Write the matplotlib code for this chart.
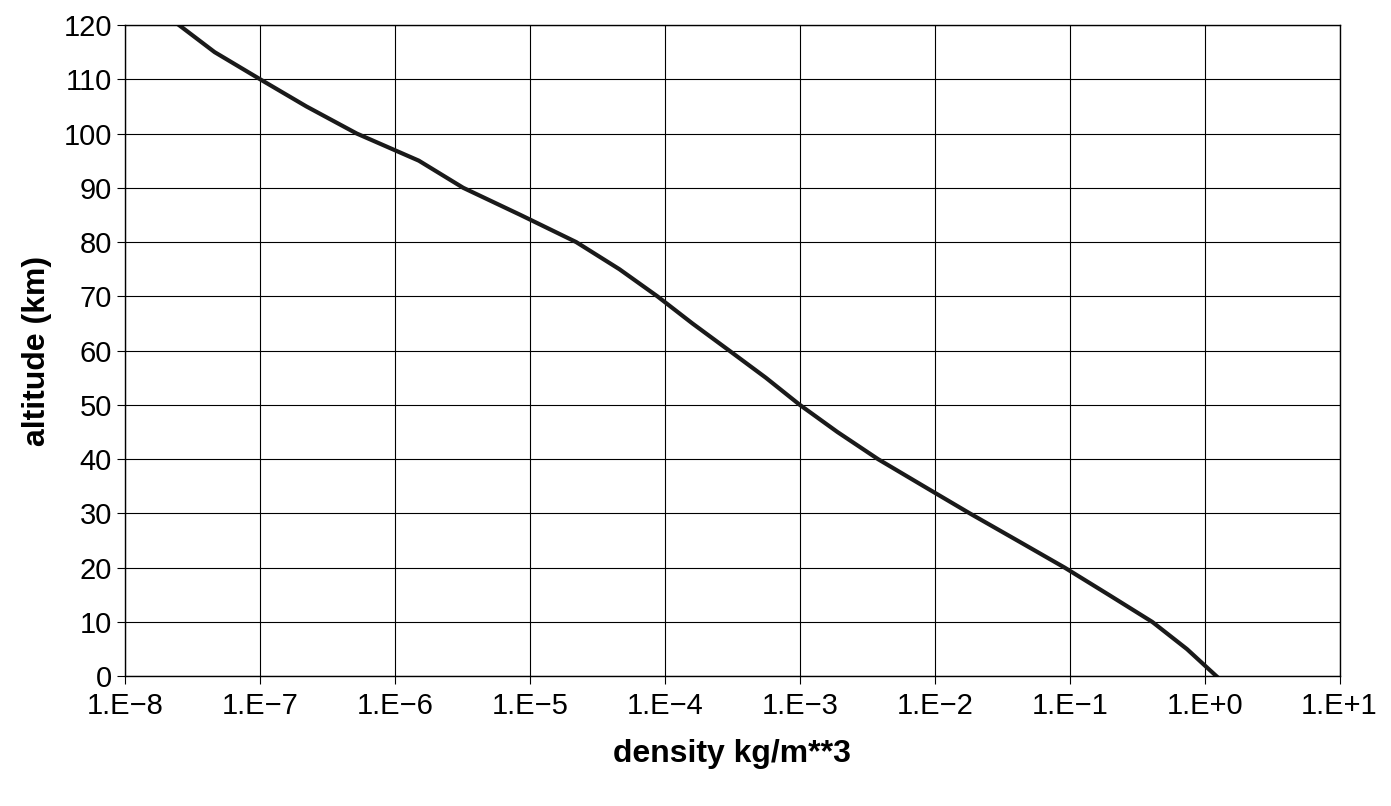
import matplotlib
matplotlib.use("Agg")
import matplotlib.pyplot as plt
from matplotlib.ticker import FixedLocator, FixedFormatter

plt.rcParams['font.family'] = ['Liberation Sans', 'DejaVu Sans']

altitude_km = [0, 5, 10, 15, 20, 25, 30, 35, 40, 45, 50, 55, 60, 65, 70, 75, 80, 85, 90, 95, 100, 105, 110, 115, 120]
density = [1.225, 0.74, 0.41, 0.195, 0.092, 0.041, 0.0182, 0.0083, 0.0038, 0.0019, 1.0e-3,
           5.6e-4, 3.0e-4, 1.6e-4, 8.8e-5, 4.6e-5, 2.2e-5, 8.5e-6, 3.2e-6, 1.5e-6, 5.2e-7,
           2.2e-7, 1.0e-7, 4.6e-8, 2.5e-8]
x_exps = list(range(-8, 2))
x_labels = ["1.E\u22128", "1.E\u22127", "1.E\u22126", "1.E\u22125", "1.E\u22124",
            "1.E\u22123", "1.E\u22122", "1.E\u22121", "1.E+0", "1.E+1"]
y_ticks = list(range(0, 121, 10))

fig = plt.figure(figsize=(13.91, 8.06), dpi=100)
ax = fig.add_axes([0.09, 0.161, 0.873, 0.808])
ax.plot(density, altitude_km, color='#1a1a1a', lw=3)
ax.set_xscale('log')
ax.set_xlim(1e-8, 10)
ax.set_ylim(0, 120)
ax.xaxis.set_major_locator(FixedLocator([10.0**e for e in x_exps]))
ax.xaxis.set_major_formatter(FixedFormatter(x_labels))
ax.xaxis.set_minor_locator(FixedLocator([]))
ax.set_yticks(y_ticks)
ax.grid(True, color='black', lw=0.8)
for s in ax.spines.values():
    s.set_linewidth(1.0)
ax.tick_params(labelsize=21, length=6, direction='out')
ax.tick_params(axis='x', pad=5)
ax.set_xlabel("density kg/m**3", fontsize=23, fontweight='bold', labelpad=14)
ax.set_ylabel("altitude (km)", fontsize=23, fontweight='bold', labelpad=8)
fig.savefig("out.png", dpi=100)
